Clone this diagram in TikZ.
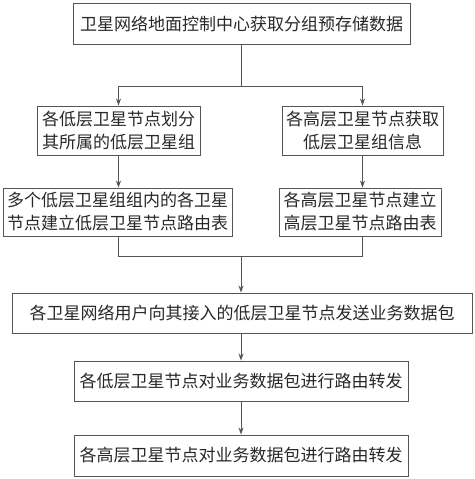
\documentclass[tikz,border=0pt]{standalone}
\usepackage{fontspec}
\newfontfamily\cjk{Noto Sans CJK SC}
\usetikzlibrary{arrows.meta}
\definecolor{linegray}{RGB}{85,85,85}
\definecolor{textgray}{RGB}{40,40,40}
\tikzset{
  stepbox/.style={draw=linegray, line width=0.9pt, inner sep=0pt, align=center,
    font=\cjk\fontsize{17}{23}\selectfont, text=textgray},
  flow/.style={draw=linegray, line width=0.9pt, -{Stealth[length=7pt,width=5pt]}},
  link/.style={draw=linegray, line width=0.9pt}
}
\begin{document}
\begin{tikzpicture}[x=1pt,y=-1pt]
\useasboundingbox (0,0) rectangle (474,479);
% boxes
\node[stepbox, minimum width=337pt, minimum height=41pt] (start) at (241.5,23.5) {卫星网络地面控制中心获取分组预存储数据};
\node[stepbox, minimum width=163pt, minimum height=49pt] (lowgrp) at (118.5,130.5) {各低层卫星节点划分\\其所属的低层卫星组};
\node[stepbox, minimum width=161pt, minimum height=49pt] (highinfo) at (362.5,130.5) {各高层卫星节点获取\\低层卫星组信息};
\node[stepbox, minimum width=229pt, minimum height=48pt] (lowtab) at (117.5,212) {多个低层卫星组组内的各卫星\\节点建立低层卫星节点路由表};
\node[stepbox, minimum width=162pt, minimum height=48pt] (hightab) at (360,212) {各高层卫星节点建立\\高层卫星节点路由表};
\node[stepbox, minimum width=460pt, minimum height=40pt] (send) at (242,313) {各卫星网络用户向其接入的低层卫星节点发送业务数据包};
\node[stepbox, minimum width=334pt, minimum height=40pt] (lowfwd) at (241,381) {各低层卫星节点对业务数据包进行路由转发};
\node[stepbox, minimum width=334pt, minimum height=41pt] (highfwd) at (241,455.5) {各高层卫星节点对业务数据包进行路由转发};
% split and merge points
\coordinate (split) at (241,86);
\coordinate (merge) at (241,256);
% connectors
\draw[link] (start.south -| split) -- (split);
\draw[flow] (split) -| (lowgrp.north);
\draw[flow] (split) -| (highinfo.north);
\draw[flow] (lowgrp.south) -- (lowgrp.south |- lowtab.north);
\draw[flow] (highinfo.south) -- (highinfo.south |- hightab.north);
\draw[link] (lowgrp.south |- lowtab.south) |- (merge);
\draw[link] (highinfo.south |- hightab.south) |- (merge);
\draw[flow] (merge) -- (merge |- send.north);
\draw[flow] (send.south -| merge) -- (merge |- lowfwd.north);
\draw[flow] (lowfwd.south -| merge) -- (merge |- highfwd.north);
\end{tikzpicture}
\end{document}
